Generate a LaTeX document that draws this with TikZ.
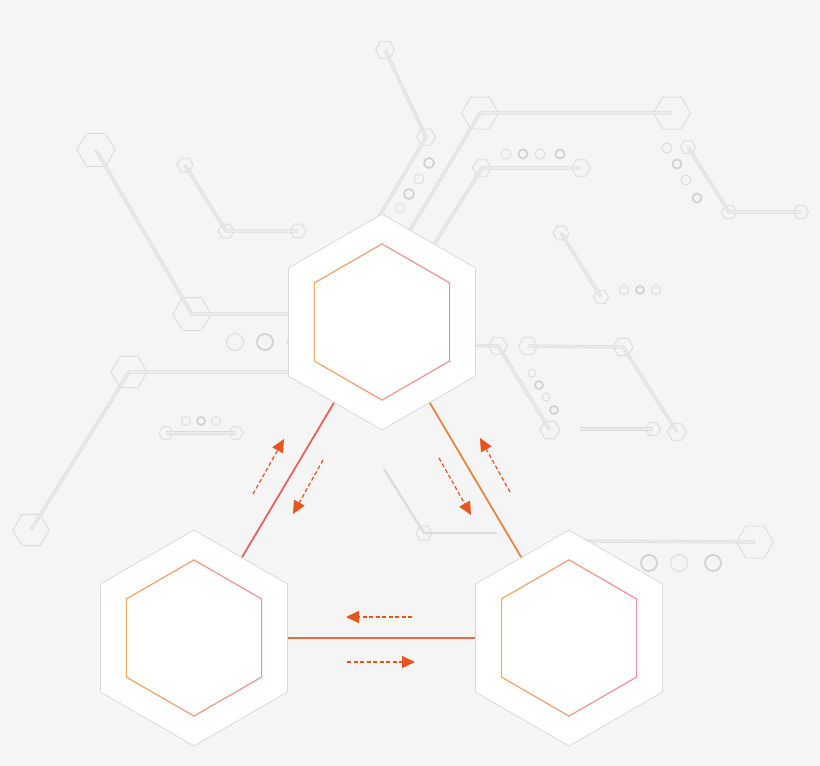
\documentclass[tikz,border=0pt]{standalone}
\usepackage{tikz}
\usetikzlibrary{shapes.geometric,arrows.meta}
\definecolor{paper}{HTML}{F5F5F5}
\definecolor{wireline}{HTML}{DCDCDC}
\definecolor{wirefill}{HTML}{EBEBEB}
\definecolor{wiredark}{HTML}{D2D2D2}
\definecolor{cellline}{HTML}{DADADA}
\definecolor{ringorange}{HTML}{F2A85E}
\definecolor{ringred}{HTML}{E8765C}
\definecolor{ringpink}{HTML}{EE8FA2}
\definecolor{linkred}{HTML}{E8625A}
\definecolor{linkorange}{HTML}{E8843E}
\definecolor{linkmid}{HTML}{E96A4A}
\definecolor{flowcol}{HTML}{E8531E}

\begin{document}
\begin{tikzpicture}[x=1pt,y=-1pt,
	chip/.style={regular polygon, regular polygon sides=6, draw=wireline, line width=0.9pt, inner sep=0pt, minimum size=#1},
	wire/.style={draw=wireline, line width=0.8pt, double=wirefill, double distance=1.6pt},
	pad/.style={circle, draw=wireline, line width=0.9pt, inner sep=0pt, minimum size=#1},
	padthick/.style={circle, draw=wiredark, line width=1.8pt, inner sep=0pt, minimum size=#1},
	cell/.style={regular polygon, regular polygon sides=6, regular polygon rotate=30, minimum size=216pt, inner sep=0pt, fill=white, draw=cellline, line width=0.8pt},
	link/.style={line width=1.8pt},
	flow/.style={draw=flowcol, line width=1.2pt, dash pattern=on 4pt off 2.5pt, -{Triangle[length=13pt,width=12pt]}}]

	\fill[paper] (0,0) rectangle (820,766);

	% circuit in the background
	\node[chip=38] (ha) at (96,150) {};
	\node[chip=38] (hb) at (192,314) {};
	\coordinate (e1) at (300,314);
	\draw[wire] (ha.center) -- (hb.center) -- (e1);

	\node[chip=16] (hc) at (185,165) {};
	\node[chip=16] (hd) at (226,231) {};
	\node[chip=16] (he) at (298,231) {};
	\draw[wire] (hc.center) -- (hd.center) -- (he.center);

	\node[chip=36] (hf) at (129,372) {};
	\node[chip=36] (hg) at (31,530) {};
	\coordinate (e2) at (300,372);
	\draw[wire] (hg.center) -- (hf.center) -- (e2);

	\node[chip=14] (hh) at (166,433) {};
	\node[chip=14] (hi) at (236,433) {};
	\draw[wire] (hh.center) -- (hi.center);

	\node[chip=19] (hj) at (385,50) {};
	\node[chip=19] (hk) at (426,137) {};
	\coordinate (e3) at (370,232);
	\draw[wire] (hj.center) -- (hk.center) -- (e3);

	\node[chip=37] (hl) at (480,113) {};
	\node[chip=37] (hm) at (672,113) {};
	\coordinate (e4) at (400,247);
	\draw[wire] (e4) -- (hl.center) -- (hm.center);

	\node[chip=19] (hn) at (482,168) {};
	\node[chip=19] (ho) at (581,168) {};
	\coordinate (e5) at (428,254);
	\draw[wire] (e5) -- (hn.center) -- (ho.center);

	\node[chip=15] (hp) at (688,147) {};
	\node[chip=15] (hq) at (729,212) {};
	\node[chip=15] (hr) at (801,212) {};
	\draw[wire] (hp.center) -- (hq.center) -- (hr.center);

	\node[chip=16] (hs) at (561,233) {};
	\node[chip=15] (ht) at (601,297) {};
	\draw[wire] (hs.center) -- (ht.center);

	\node[chip=19] (hu) at (498,346) {};
	\node[chip=20] (hv) at (550,430) {};
	\coordinate (e6) at (470,345);
	\draw[wire] (e6) -- (hu.center) -- (hv.center);

	\node[chip=19] (hw) at (528,346) {};
	\node[chip=20] (hx) at (623,347) {};
	\node[chip=19] (hy) at (677,432) {};
	\draw[wire] (hw.center) -- (hx.center) -- (hy.center);

	\node[chip=15] (hz) at (653,429) {};
	\coordinate (e7) at (580,429);
	\draw[wire] (e7) -- (hz.center);

	\node[chip=16] (hcent) at (424,533) {};
	\coordinate (e8) at (384,469);
	\coordinate (e9) at (496,533);
	\draw[draw=wireline, line width=2.2pt, line cap=round] (e8) -- (hcent.center) -- (e9);

	\node[chip=37] (hbig) at (755,542) {};
	\coordinate (e10) at (575,541);
	\draw[wire] (e10) -- (hbig.center);

	\foreach \x/\y/\d/\s [count=\i] in {235/342/17/pad, 265/342/16/padthick, 296/342/17/pad,
		186/421/9/pad, 201/421/8/padthick, 216/421/9/pad,
		429/163/10/padthick, 419/179/10/pad, 409/194/10/padthick, 400/208/10/pad,
		506/154/10/pad, 523/154/9/padthick, 540/154/10/pad, 560/154/9/padthick,
		667/148/10/pad, 677/164/9/padthick, 686/180/10/pad, 697/198/9/padthick,
		624/290/9/pad, 640/290/8/padthick, 656/290/9/pad,
		532/373/8/pad, 539/385/8/padthick, 546/397/8/pad, 554/410/8/padthick,
		649/563/16/padthick, 679/563/17/pad, 713/563/16/padthick}
		\node[\s=\d] (dot\i) at (\x,\y) {};

	% the three cells
	\node[cell] (top) at (382,322) {};
	\node[cell] (bl) at (194,638) {};
	\node[cell] (br) at (569,638) {};

	\draw[link, linkred] (top) -- (bl);
	\draw[link, linkorange] (top) -- (br);
	\draw[link, linkmid] (bl) -- (br);

	\foreach \c in {top,bl,br}
		\shade[shift={(\c)}, left color=ringorange, middle color=ringred, right color=ringpink, even odd rule]
			(90:78.8) -- (30:78.8) -- (-30:78.8) -- (-90:78.8) -- (-150:78.8) -- (150:78.8) -- cycle
			(90:77.4) -- (30:77.4) -- (-30:77.4) -- (-90:77.4) -- (-150:77.4) -- (150:77.4) -- cycle;

	% flow arrows
	\coordinate (a1s) at (253,494); \coordinate (a1t) at (284,439);
	\coordinate (a2s) at (323,460); \coordinate (a2t) at (293,514);
	\coordinate (a3s) at (439,458); \coordinate (a3t) at (471,515);
	\coordinate (a4s) at (510,492); \coordinate (a4t) at (480,438);
	\coordinate (a5s) at (412,617); \coordinate (a5t) at (346,617);
	\coordinate (a6s) at (347,662); \coordinate (a6t) at (415,662);
	\foreach \a in {1,...,6}
		\draw[flow] (a\a s) -- (a\a t);

\end{tikzpicture}
\end{document}
